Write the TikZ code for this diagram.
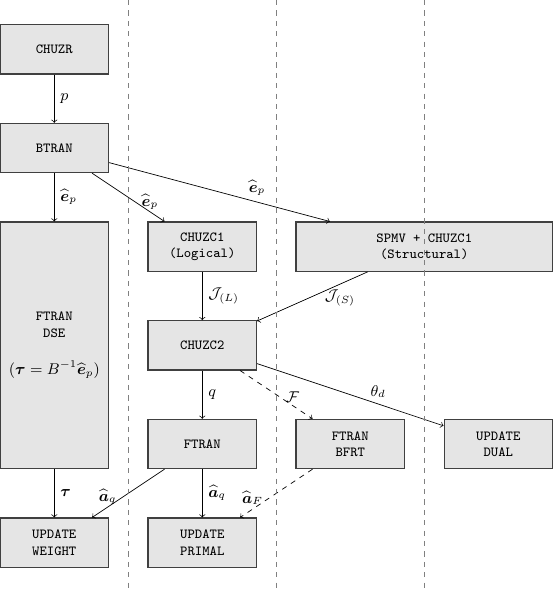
\documentclass[tikz,border=0pt]{standalone}
\usepackage{amssymb}
\usepackage{amsmath}
\usepackage{amsfonts}
\usepackage{tikz}
\usetikzlibrary{calc, arrows}

\begin{document}
\begin{tikzpicture}[node distance=2cm,
  box/.style={draw=black!75,semithick,fill=black!10,minimum width=2.2cm,minimum height=1cm,align=center,font=\ttfamily\footnotesize},
  flow/.style={->,>=to,every node/.style={font=\small}},
  sep/.style={dashed,gray}]
\useasboundingbox (-1.1,1.0) rectangle (10.15,-11.02);
\draw node [box] (chuzr) {CHUZR};
\draw node [box] [below of=chuzr] (btran) {BTRAN};
\draw node [box,minimum height=5cm] [below of=btran,node distance=4cm] (dse) {FTRAN\\DSE\\[12pt]{\small$(\boldsymbol{\tau}=B^{-1}\widehat{\boldsymbol{e}}_p)$}};
\draw node [box] [below of=dse,node distance=4cm] (weight) {UPDATE\\WEIGHT};
\draw node [box] at (3,-4) (chuzca) {CHUZC1\\(Logical)};
\draw node [box,minimum width=5.2cm] [right of=chuzca,node distance=4.5cm] (spmv) {SPMV + CHUZC1\\(Structural)};
\draw node [box] [below of=chuzca] (chuzcb) {CHUZC2};
\draw node [box] [below of=chuzcb] (ftran) {FTRAN};
\draw node [box] [below of=ftran] (primal) {UPDATE\\PRIMAL};
\draw node [box] [right of=ftran,node distance=3cm] (bfrt) {FTRAN\\BFRT};
\draw node [box] [right of=bfrt,node distance=3cm] (dual) {UPDATE\\DUAL};
\draw[flow] (chuzr) -- node[right] {$p$} (btran);
\draw[flow] (btran) -- node[right] {$\widehat{\boldsymbol{e}}_p$} (dse);
\draw[flow] (btran) -- node[pos=.6,right] {$\widehat{\boldsymbol{e}}_p$} (chuzca);
\draw[flow] (btran) -- node[pos=.67,above] {$\widehat{\boldsymbol{e}}_p$} (spmv);
\draw[flow] (chuzca) -- node[right] {$\mathcal{J}_{(L)}$} (chuzcb);
\draw[flow] (spmv) -- node[pos=.25,below] {$\mathcal{J}_{(S)}$} (chuzcb);
\draw[flow] (chuzcb) -- node[right] {$q$} (ftran);
\draw[flow,dashed] (chuzcb) -- node[pos=.55,right] {$\mathcal{F}$} (bfrt);
\draw[flow] (chuzcb) -- node[pos=.65,above] {$\theta_d$} (dual);
\draw[flow] (dse) -- node[right] {$\boldsymbol{\tau}$} (weight);
\draw[flow] (ftran) -- node[pos=.58,left] {$\widehat{\boldsymbol{a}}_q$} (weight);
\draw[flow] (ftran) -- node[right] {$\widehat{\boldsymbol{a}}_q$} (primal);
\draw[flow,dashed] (bfrt) -- node[pos=.6,left] {$\widehat{\boldsymbol{a}}_F$} (primal);
\foreach \x in {1.5,4.5,7.5}
  \draw[sep] (\x,1.0) -- (\x,-11.02);
\end{tikzpicture}
\end{document}
